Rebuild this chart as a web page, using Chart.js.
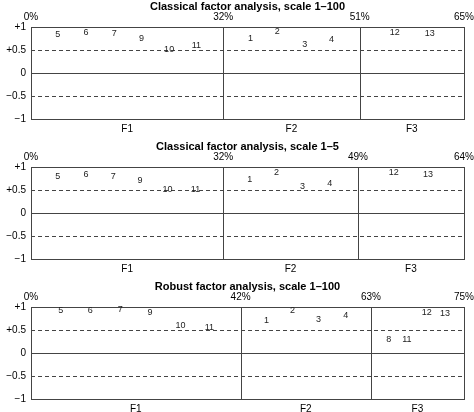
<!DOCTYPE html><html><head><meta charset="utf-8">
<script src="https://cdn.jsdelivr.net/npm/chart.js@4"></script>
<style>html,body{margin:0;padding:0;background:#fff;overflow:hidden;width:474px;height:412px}
.p{position:absolute;left:0;width:474px;height:140px}</style></head><body>
<div class="p" style="top:0"><canvas id="c0"></canvas></div>
<div class="p" style="top:140px"><canvas id="c1"></canvas></div>
<div class="p" style="top:280px"><canvas id="c2"></canvas></div>
<script>
const titles=["Classical factor analysis, scale 1\u2013100","Classical factor analysis, scale 1\u20135","Robust factor analysis, scale 1\u2013100"];
const factorNames=["F1","F2","F3"];
const pctLabels=[["0%","32%","51%","65%"],["0%","32%","49%","64%"],["0%","42%","63%","75%"]];
const bounds=[[0,44.4,75.9,100],[0,44.4,75.5,100],[0,48.4,78.5,100]];
const yTicks=[1,0.5,0,-0.5,-1];
const yTickLabels=["+1","+0.5","0","\u22120.5","\u22121"];
const labels0=["5","6","7","9","10","11","1","2","3","4","12","13"];
const x0=[6.2,12.7,19.2,25.5,31.9,38.2,50.7,56.9,63.2,69.4,84.0,92.1];
const y0=[0.83,0.87,0.85,0.76,0.52,0.59,0.74,0.91,0.63,0.72,0.89,0.85];
const labels1=["5","6","7","9","10","11","1","2","3","4","12","13"];
const x1=[6.2,12.7,19.0,25.2,31.5,38.0,50.5,56.7,62.7,69.0,83.8,91.7];
const y1=[0.80,0.83,0.80,0.70,0.50,0.52,0.72,0.89,0.57,0.65,0.87,0.83];
const labels2=["5","6","7","9","10","11","1","2","3","4","8","11","12","13"];
const x2=[6.9,13.7,20.6,27.5,34.5,41.2,54.4,60.4,66.4,72.7,82.6,86.8,91.4,95.6];
const y2=[0.92,0.93,0.95,0.87,0.59,0.55,0.71,0.92,0.73,0.82,0.29,0.29,0.89,0.86];
const X=[x0,x1,x2],Y=[y0,y1,y2],L=[labels0,labels1,labels2];
const F="'Liberation Sans', Arial, sans-serif";
function make(i){
  const plug={id:'deco',afterDraw(ch){
    const c=ch.ctx,a=ch.chartArea,xs=ch.scales.x,ys=ch.scales.y;
    c.save();c.strokeStyle='#444';c.lineWidth=1;
    c.setLineDash([4,3]);
    [0.5,-0.5].forEach(v=>{const p=Math.round(ys.getPixelForValue(v))+0.5;c.beginPath();c.moveTo(a.left,p);c.lineTo(a.right,p);c.stroke();});
    c.setLineDash([]);
    const z=Math.round(ys.getPixelForValue(0))+0.5;c.beginPath();c.moveTo(a.left,z);c.lineTo(a.right,z);c.stroke();
    c.strokeRect(a.left+0.5,a.top+0.5,a.right-a.left,a.bottom-a.top);
    bounds[i].slice(1,3).forEach(b=>{const p=Math.round(xs.getPixelForValue(b))+0.5;c.beginPath();c.moveTo(p,a.top);c.lineTo(p,a.bottom);c.stroke();});
    c.fillStyle='#000';
    c.font='bold 11px '+F;c.textAlign='center';c.textBaseline='middle';
    c.fillText(titles[i],(a.left+a.right)/2,7);
    c.font='10px '+F;
    pctLabels[i].forEach((t,k)=>c.fillText(t,xs.getPixelForValue(bounds[i][k]),17));
    for(let k=0;k<3;k++)c.fillText(factorNames[k],(xs.getPixelForValue(bounds[i][k])+xs.getPixelForValue(bounds[i][k+1]))/2,a.bottom+10);
    c.textAlign='right';
    yTicks.forEach((v,k)=>c.fillText(yTickLabels[k],26,ys.getPixelForValue(v)));
    c.textAlign='center';c.font='9px '+F;c.fillStyle='#222';
    L[i].forEach((t,k)=>c.fillText(t,xs.getPixelForValue(X[i][k]),ys.getPixelForValue(Y[i][k])));
    c.restore();}};
  new Chart(document.getElementById('c'+i),{type:'scatter',
    data:{datasets:[{data:X[i].map((x,k)=>({x,y:Y[i][k]})),pointRadius:0}]},
    options:{responsive:true,maintainAspectRatio:false,animation:false,
      layout:{padding:{left:31,right:10,top:27,bottom:21}},
      plugins:{legend:{display:false},tooltip:{enabled:false}},
      scales:{x:{type:'linear',min:0,max:100,display:false},y:{min:-1,max:1,display:false}}},
    plugins:[plug]});
}
[0,1,2].forEach(make);
</script></body></html>
